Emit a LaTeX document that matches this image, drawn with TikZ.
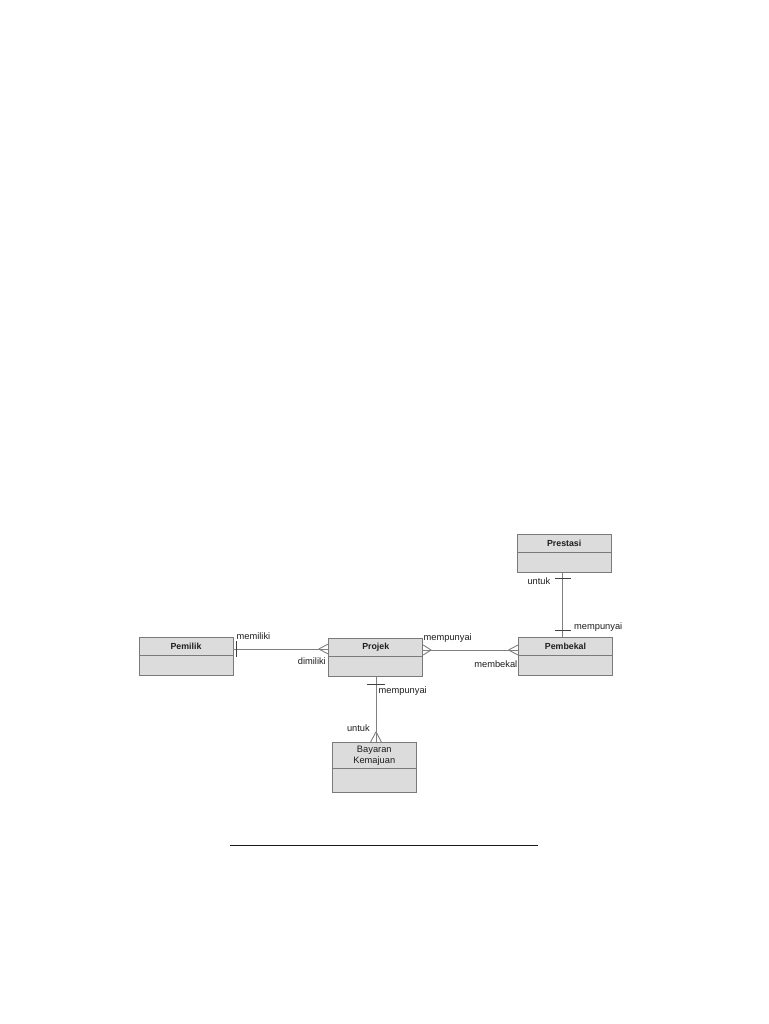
\documentclass[tikz,border=0pt]{standalone}
\usepackage{fontspec}
\setmainfont{Liberation Sans}
\begin{document}
\begin{tikzpicture}[x=1pt,y=-1pt,
  entity/.style={draw=boxline,fill=boxfill,line width=0.9pt,rectangle,inner sep=0pt,minimum width=94pt,minimum height=38.4pt},
  ename/.style={font=\fontsize{8.8}{10}\selectfont\bfseries,text=txt,inner sep=0pt},
  enamer/.style={font=\fontsize{9.3}{11}\selectfont,text=txt,inner sep=0pt,align=center},
  divline/.style={draw=boxline,line width=0.9pt},
  conn/.style={draw=connline,line width=0.9pt},
  tick/.style={draw=tickline,line width=0.9pt},
  lbl/.style={font=\fontsize{9.3}{11}\selectfont,text=txt,inner sep=0pt}]
\definecolor{boxfill}{HTML}{DCDCDC}
\definecolor{boxline}{HTML}{7A7A7A}
\definecolor{connline}{HTML}{7F7F7F}
\definecolor{tickline}{HTML}{404040}
\definecolor{txt}{HTML}{1E1E1E}
\useasboundingbox[fill=white] (0,0) rectangle (768,1024);

% entities
\node[entity] (prestasi) at (564.2,553.2) {};
\node[entity] (pemilik) at (186,656.5) {};
\node[entity] (projek) at (375.7,657.5) {};
\node[entity] (pembekal) at (565.5,656.5) {};
\node[entity,minimum width=84pt,minimum height=50pt] (bayaran) at (374.3,767.7) {};

\foreach \n in {prestasi,pemilik,projek,pembekal}{
  \draw[divline] ([yshift=-19pt]\n.north west) -- ([yshift=-19pt]\n.north east);
}
\draw[divline] ([yshift=-26pt]bayaran.north west) -- ([yshift=-26pt]bayaran.north east);

\node[ename] (prestasi-t) at ([yshift=-9.5pt]prestasi.north) {Prestasi};
\node[ename] (pemilik-t) at ([yshift=-9.5pt]pemilik.north) {Pemilik};
\node[ename] (projek-t) at ([yshift=-9.5pt]projek.north) {Projek};
\node[ename] (pembekal-t) at ([yshift=-9.5pt]pembekal.north) {Pembekal};
\node[enamer] (bayaran-t) at ([yshift=-14pt]bayaran.north) {Bayaran\\Kemajuan};

% Pemilik -- Projek
\coordinate (a1) at (pemilik.east |- 0,649);
\coordinate (a2) at (projek.west |- 0,649);
\draw[conn] (a1) -- (a2);
\draw[tick] ([xshift=3pt,yshift=8pt]a1) -- ([xshift=3pt,yshift=-8pt]a1);
\draw[conn] ([xshift=-9.5pt]a2) -- ([yshift=5pt]a2);
\draw[conn] ([xshift=-9.5pt]a2) -- ([yshift=-5pt]a2);

% Projek -- Pembekal
\coordinate (b1) at (projek.east |- 0,650);
\coordinate (b2) at (pembekal.west |- 0,650);
\draw[conn] (b1) -- (b2);
\draw[conn] ([xshift=8pt]b1) -- ([yshift=5pt]b1);
\draw[conn] ([xshift=8pt]b1) -- ([yshift=-5pt]b1);
\draw[conn] ([xshift=-9.5pt]b2) -- ([yshift=5pt]b2);
\draw[conn] ([xshift=-9.5pt]b2) -- ([yshift=-5pt]b2);

% Projek -- Bayaran
\coordinate (c1) at (projek.south -| 376,0);
\coordinate (c2) at (bayaran.north -| 376,0);
\draw[conn] (c1) -- (c2);
\draw[tick] ([xshift=-9pt,yshift=-7.5pt]c1) -- ([xshift=9pt,yshift=-7.5pt]c1);
\draw[conn] ([yshift=10.5pt]c2) -- ([xshift=-5.5pt]c2);
\draw[conn] ([yshift=10.5pt]c2) -- ([xshift=5.5pt]c2);

% Prestasi -- Pembekal
\coordinate (d1) at (prestasi.south -| 562.7,0);
\coordinate (d2) at (pembekal.north -| 562.7,0);
\draw[conn] (d1) -- (d2);
\draw[tick] ([xshift=-8pt,yshift=-6pt]d1) -- ([xshift=8.5pt,yshift=-6pt]d1);
\draw[tick] ([xshift=-8pt,yshift=6.5pt]d2) -- ([xshift=8.5pt,yshift=6.5pt]d2);

% labels
\node[lbl,anchor=west] (l1) at (236.5,635.7) {memiliki};
\node[lbl,anchor=east] (l2) at (326,660.7) {dimiliki};
\node[lbl,anchor=west] (l3) at (423.5,638.3) {mempunyai};
\node[lbl,anchor=east] (l4) at (517.5,664) {membekal};
\node[lbl,anchor=west] (l5) at (527.3,581.3) {untuk};
\node[lbl,anchor=west] (l6) at (574,627.3) {mempunyai};
\node[lbl,anchor=west] (l7) at (378.5,691) {mempunyai};
\node[lbl,anchor=east] (l8) at (370,727.7) {untuk};

% bottom rule
\draw[line width=1.1pt,color=black!90] (230,845.3) -- (537.7,845.3);
\end{tikzpicture}
\end{document}
